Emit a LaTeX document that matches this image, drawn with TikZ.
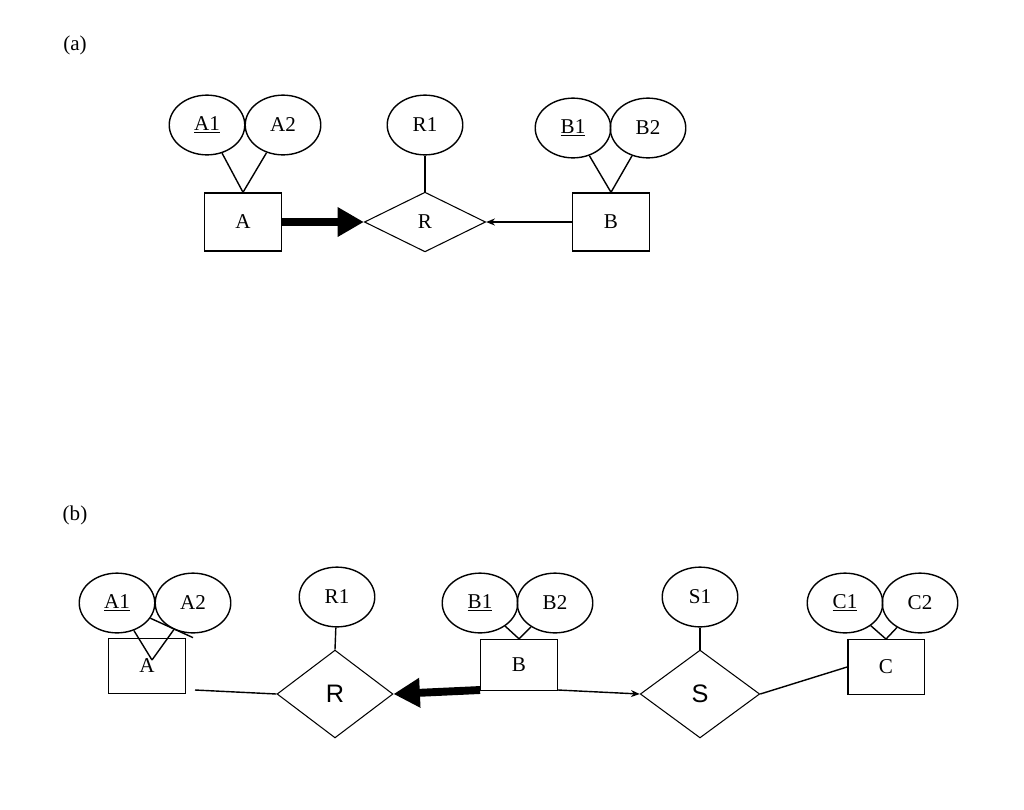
\documentclass[tikz,border=0pt]{standalone}
\usepackage{fontspec}
\setmainfont{Liberation Serif}
\setsansfont{Liberation Sans}
\usetikzlibrary{shapes.geometric,arrows.meta}
\begin{document}
\begin{tikzpicture}[x=0.02cm,y=-0.02cm,
  attr/.style={ellipse,draw,line width=0.8pt,minimum width=43pt,minimum height=34pt,inner sep=0pt,font=\large},
  ent/.style={rectangle,draw,line width=0.8pt,minimum width=43.5pt,minimum height=33pt,inner sep=0pt,font=\large},
  rel/.style={diamond,draw,line width=0.6pt,inner sep=0pt,font=\large},
  conn/.style={line width=0.8pt},
  thick arr/.style={line width=4.5pt,-{Triangle[length=15pt,width=16pt]}},
  thin arr/.style={line width=0.8pt,-{Stealth[length=5pt,width=4pt]}}]
\useasboundingbox (0,0) rectangle (1024,809);
% (a)
\node (la) at (75,45) {\large (a)};
\node[attr] (aA1) at (207,125) {\underline{A1}};
\node[attr] (aA2) at (283,125) {A2};
\node[attr] (aR1) at (425,125) {R1};
\node[attr] (aB1) at (573,128) {\underline{B1}};
\node[attr] (aB2) at (648,128) {B2};
\node[ent] (aA) at (243,222) {A};
\node[ent] (aB) at (611,222) {B};
\node[diamond,draw,line width=0.6pt,minimum width=69pt,minimum height=34pt,inner sep=0pt,aspect=2,font=\large] (aR) at (425,222) {R};
\draw[conn] (aA1) -- (aA.north);
\draw[conn] (aA2) -- (aA.north);
\draw[conn] (aB1) -- (aB.north);
\draw[conn] (aB2) -- (aB.north);
\draw[conn] (aR1) -- (aR.north);
\draw[thick arr] (aA.east) -- (aR.west);
\draw[thin arr] (aB.west) -- (aR.east);
% (b)
\node (lb) at (75,515) {\large (b)};
\node[attr] (bA1) at (117,603) {\underline{A1}};
\node[attr] (bA2) at (193,603) {A2};
\node[attr] (bR1) at (337,597) {R1};
\node[attr] (bB1) at (480,603) {\underline{B1}};
\node[attr] (bB2) at (555,603) {B2};
\node[attr] (bS1) at (700,597) {S1};
\node[attr] (bC1) at (845,603) {\underline{C1}};
\node[attr] (bC2) at (920,603) {C2};
\node[ent,minimum height=31.5pt] (bA) at (147,666) {A};
\node[ent,minimum height=29pt] (bB) at (519,665) {B};
\node[ent,minimum height=31pt] (bC) at (886,667) {C};
\node[diamond,draw,line width=0.6pt,minimum width=66pt,minimum height=50pt,inner sep=0pt,aspect=1.3,font=\sffamily\Large] (bR) at (335,694) {R};
\node[diamond,draw,line width=0.6pt,minimum width=68pt,minimum height=50pt,inner sep=0pt,aspect=1.3,font=\sffamily\Large] (bS) at (700,694) {S};
\draw[conn] (bA1) -- (bA2 |- bA.north) coordinate (tmpa);
\draw[conn] (bA1) -- (152,660);
\draw[conn] (bA2) -- (152,660);
\draw[conn] (bB1) -- (bB.north);
\draw[conn] (bB2) -- (bB.north);
\draw[conn] (bC1) -- (bC.north);
\draw[conn] (bC2) -- (bC.north);
\draw[conn] (bR1) -- (bR.north);
\draw[conn] (bS1) -- (bS.north);
\draw[conn] (195,690) -- (bR.west);
\draw[thick arr] (bB.west |- 0,690) -- (bR.east);
\draw[thin arr] (bB.east |- 0,690) -- (bS.west);
\draw[conn] (bS.east) -- (bC.west);
\end{tikzpicture}
\end{document}
